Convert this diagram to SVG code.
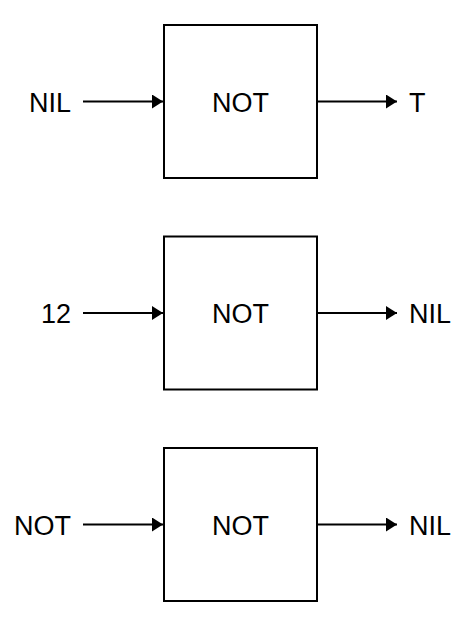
<svg xmlns="http://www.w3.org/2000/svg" width="474" height="628" viewBox="0 0 474 628">
<style>
.box{fill:#fff;stroke:#000;stroke-width:2}
.ln{stroke:#000;stroke-width:2;fill:none}
text{font-family:"Liberation Sans",Arial,sans-serif;font-size:27px;fill:#000}
.in{text-anchor:end}
.mid{text-anchor:middle}
</style>
<defs>
<marker id="ah" markerUnits="userSpaceOnUse" markerWidth="12" markerHeight="14" refX="11" refY="7" orient="auto">
<path d="M0,0 L11,7 L0,14 Z" fill="#000"/>
</marker>
</defs>
<rect width="474" height="628" fill="#fff"/>
<g id="connectors">
<line class="ln" x1="83" y1="101.5" x2="163" y2="101.5" marker-end="url(#ah)"/>
<line class="ln" x1="317" y1="101.5" x2="397" y2="101.5" marker-end="url(#ah)"/>
<line class="ln" x1="83" y1="313" x2="163" y2="313" marker-end="url(#ah)"/>
<line class="ln" x1="317" y1="313" x2="397" y2="313" marker-end="url(#ah)"/>
<line class="ln" x1="83" y1="524.5" x2="163" y2="524.5" marker-end="url(#ah)"/>
<line class="ln" x1="317" y1="524.5" x2="397" y2="524.5" marker-end="url(#ah)"/>
</g>
<g id="node1">
<rect class="box" x="164" y="25" width="153" height="153"/>
<text class="mid" x="240.5" y="111.5">NOT</text>
</g>
<g id="node2">
<rect class="box" x="164" y="236.5" width="153" height="153"/>
<text class="mid" x="240.5" y="323">NOT</text>
</g>
<g id="node3">
<rect class="box" x="164" y="448" width="153" height="153"/>
<text class="mid" x="240.5" y="534.5">NOT</text>
</g>
<g id="labels">
<text class="in" x="71" y="111.5">NIL</text>
<text x="409" y="111.5">T</text>
<text class="in" x="71" y="323">12</text>
<text x="409" y="323">NIL</text>
<text class="in" x="71" y="534.5">NOT</text>
<text x="409" y="534.5">NIL</text>
</g>
</svg>
